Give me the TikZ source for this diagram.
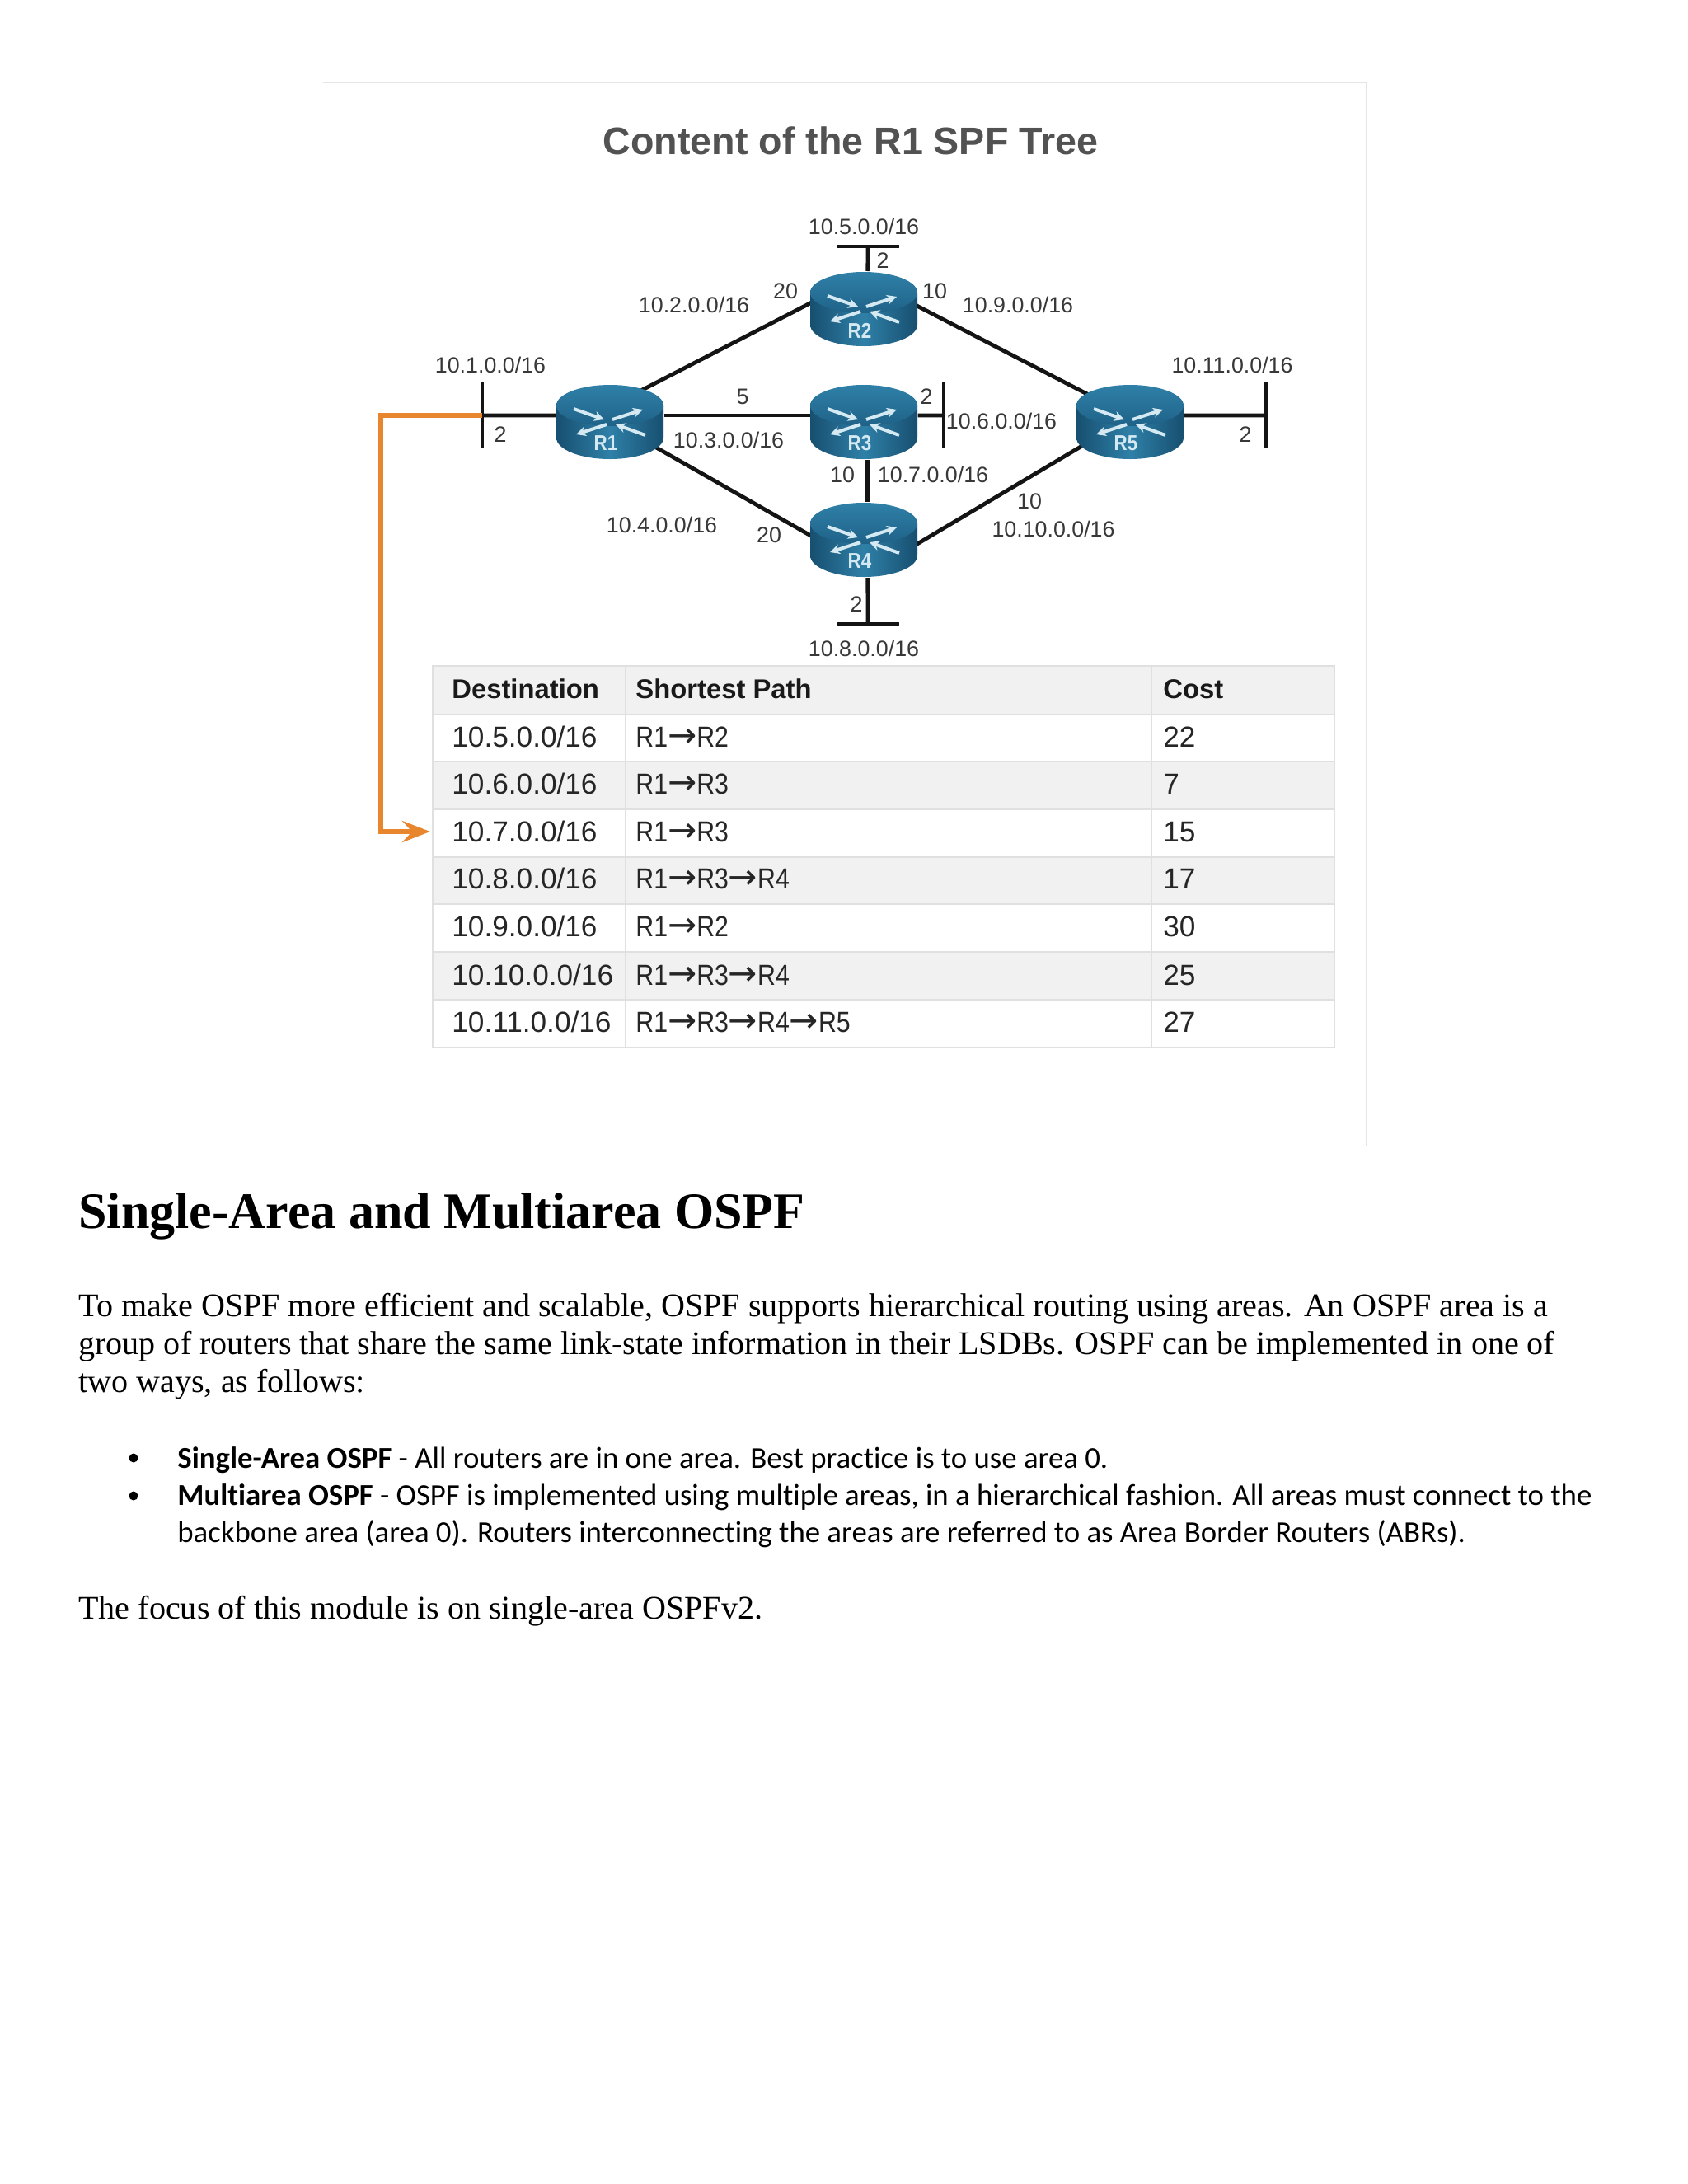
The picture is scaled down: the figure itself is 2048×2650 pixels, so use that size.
\documentclass[tikz,border=0pt]{standalone}
\usepackage{fontspec}
\usetikzlibrary{arrows.meta,calc}
\setmainfont{Liberation Serif}
\newfontfamily\arialf{Liberation Sans}
\newfontfamily\arialnf[FakeStretch=0.86]{Liberation Sans}
\newfontfamily\dvf{DejaVu Sans}
\newfontfamily\calf[Ligatures=CommonOff]{Carlito}
\definecolor{routerlight}{HTML}{2F80A8}
\definecolor{routermid}{HTML}{1F6288}
\definecolor{routerdark}{HTML}{174F70}
\definecolor{iconline}{HTML}{D4E9F2}
\definecolor{tblgrey}{HTML}{F1F1F2}
\definecolor{tblline}{HTML}{E0E0E1}
\definecolor{orangeln}{HTML}{E8862E}
\newcommand{\arr}{{\dvf\fontsize{21}{21}\selectfont →}}
\tikzset{
  x=0.5pt,y=-0.5pt,
  routerbox/.style={minimum width=131*0.5pt,minimum height=92*0.5pt,inner sep=0pt,outer sep=0pt},
  netln/.style={draw=black!92,line width=2.4pt},
  diag/.style={shorten <=-10pt,shorten >=-10pt},
  lbl/.style={inner sep=0pt,font=\arialf\fontsize{13.4}{16}\selectfont,text=black!78,anchor=center,text height=9.6pt,text depth=0pt},
  cell/.style={inner sep=0pt,font=\arialf\fontsize{17.6}{21}\selectfont,text=black!85,anchor=west,text height=12.6pt,text depth=0pt},
  pathcell/.style={cell,font=\arialnf\fontsize{17.6}{21}\selectfont},
  headcell/.style={inner sep=0pt,font=\arialf\bfseries\fontsize{16.4}{20}\selectfont,text=black!90,anchor=west,text height=11.8pt,text depth=0pt},
  serifline/.style={inner sep=0pt,anchor=base west,font=\fontsize{20.05}{24}\selectfont,text=black},
  calline/.style={inner sep=0pt,anchor=base west,font=\calf\fontsize{18.4}{22}\selectfont,text=black},
  iconarrow/.style={draw=iconline,line width=2pt,-{Stealth[length=6pt,width=6pt]}},
}
\newcommand{\routerart}[2]{%
  \begin{scope}[shift={(#1.center)}]
    \shade[left color=routerdark,right color=routerdark,middle color=routerlight]
      (-65,-20) -- (-65,19) .. controls (-65,33.4) and (-36,45) .. (0,45)
      .. controls (36,45) and (65,33.4) .. (65,19) -- (65,-20) -- cycle;
    \shade[top color=routerlight,bottom color=routermid] (0,-20) ellipse [x radius=65,y radius=25];
    \draw[iconarrow] (-44,-16) -- (-7,-3);
    \draw[iconarrow] (3,-3) -- (40,-15);
    \draw[iconarrow] (-4,3) -- (-41,15);
    \draw[iconarrow] (43,16) -- (7,3);
    \node[inner sep=0pt,text=iconline,font=\arialnf\bfseries\fontsize{13}{15}\selectfont] at (-5,26) {#2};
  \end{scope}}
\begin{document}
\begin{tikzpicture}
\useasboundingbox (0,0) rectangle (2048,2650);
\fill[white] (0,0) rectangle (2048,2650);
% panel
\draw[draw=black!10,line width=1pt] (392,100) -- (1658,100) -- (1658,1391);
\node[inner sep=0pt,font=\arialf\bfseries\fontsize{23.3}{28}\selectfont,text=black!68] (title) at (1032,171) {Content of the R1 SPF Tree};
% router anchors
\node[routerbox] (R1) at (740,512) {};
\node[routerbox] (R2) at (1048,375) {};
\node[routerbox] (R3) at (1048,512) {};
\node[routerbox] (R4) at (1048,655) {};
\node[routerbox] (R5) at (1371,512) {};
\coordinate (tR1) at (585,504);
\coordinate (tR2) at (1053,299);
\coordinate (tR3) at (1145,504);
\coordinate (tR4) at (1053,757);
\coordinate (tR5) at (1536,504);
\coordinate (turn) at (462,1009);
% connectors
\draw[netln,diag] (R1.41) -- (R2.174);
\draw[netln,diag] (R1.-29) -- (R4.175);
\draw[netln,diag] (R2.3) -- (R5.148);
\draw[netln,diag] (R4.-4) -- (R5.-153);
\draw[netln] (R1.7) -- (R3.173);
\draw[netln] (R3.-84) -- (R4.84);
\draw[netln] (tR1) -- (R1.173);
\draw[netln] (R3.7) -- (tR3);
\draw[netln] (R5.7) -- (tR5);
\draw[netln] (R2.84) -- (tR2);
\draw[netln] (R4.-84) -- (tR4);
\draw[netln] ($(tR1)+(0,-40)$) -- ($(tR1)+(0,40)$);
\draw[netln] ($(tR3)+(0,-40)$) -- ($(tR3)+(0,40)$);
\draw[netln] ($(tR5)+(0,-40)$) -- ($(tR5)+(0,40)$);
\draw[netln] ($(tR2)+(-38,0)$) -- ($(tR2)+(38,0)$);
\draw[netln] ($(tR4)+(-38,0)$) -- ($(tR4)+(38,0)$);
% routers
\routerart{R1}{R1}
\routerart{R2}{R2}
\routerart{R3}{R3}
\routerart{R4}{R4}
\routerart{R5}{R5}
% network labels
\foreach \nm/\px/\py/\tx in {
 n5/1048/275/10.5.0.0\slash 16, c5/1071/316/2, c2a/953/353/20, c2b/1134/353/10,
 n2/842/370/10.2.0.0\slash 16, n9/1235/370/10.9.0.0\slash 16,
 n1/595/443/10.1.0.0\slash 16, n11/1495/443/10.11.0.0\slash 16,
 c3a/901/481/5, c3b/1124/481/2, c1/607/527/2, n3/884/534/10.3.0.0\slash 16,
 n6/1215/511/10.6.0.0\slash 16, c11/1511/527/2, c7/1022/576/10, n7/1132/576/10.7.0.0\slash 16,
 c10/1249/608/10, n10/1278/642/10.10.0.0\slash 16, n4/803/637/10.4.0.0\slash 16,
 c4/933/649/20, c8/1039/733/2, n8/1048/787/10.8.0.0\slash 16}
  \node[lbl] (\nm) at (\px,\py) {\tx};
% table
\foreach \ya/\yb in {808/867,924/982,1040/1097,1155/1213}
  \fill[tblgrey] (525,\ya) rectangle (1619,\yb);
\draw[draw=tblline,line width=1.2pt] (525,808) rectangle (1619,1271);
\foreach \yy in {867,924,982,1040,1097,1155,1213}
  \draw[draw=tblline,line width=1.2pt] (525,\yy) -- (1619,\yy);
\foreach \xx in {759,1397}
  \draw[draw=tblline,line width=1pt] (\xx,808) -- (\xx,1271);
\node[headcell] (hd) at (548,836) {Destination};
\node[headcell] (hp) at (771,836) {Shortest Path};
\node[headcell] (hc) at (1411,836) {Cost};
\foreach \i/\yy/\da/\pa/\co in {
 5/894/10.5.0.0\slash 16/R1\arr R2/22,
 6/951/10.6.0.0\slash 16/R1\arr R3/7,
 7/1009/10.7.0.0\slash 16/R1\arr R3/15,
 8/1066/10.8.0.0\slash 16/R1\arr R3\arr R4/17,
 9/1124/10.9.0.0\slash 16/R1\arr R2/30,
 10/1183/10.10.0.0\slash 16/R1\arr R3\arr R4/25,
 11/1240/10.11.0.0\slash 16/R1\arr R3\arr R4\arr R5/27}{
  \node[cell] (d\i) at (548,\yy) {\da};
  \node[pathcell] (p\i) at (771,\yy) {\pa};
  \node[cell] (k\i) at (1411,\yy) {\co};
}
% orange connector
\draw[draw=orangeln,line width=3pt,line join=miter,-{Stealth[length=17pt,width=13pt,inset=6pt]}]
  (tR1) -- (tR1 -| turn) -- (turn) -- ([xshift=-13pt]d7.west);
% lower text
\node[inner sep=0pt,anchor=base west,font=\bfseries\fontsize{31}{36}\selectfont] (head) at (95,1490) {Single-Area and Multiarea OSPF};
\node[serifline] (p1) at (95,1597) {To make OSPF more efficient and scalable, OSPF supports hierarchical routing using areas. An OSPF area is a};
\node[serifline] (p2) at (95,1643) {group of routers that share the same link-state information in their LSDBs. OSPF can be implemented in one of};
\node[serifline] (p3) at (95,1689) {two ways, as follows:};
\node[circle,fill=black,inner sep=0pt,minimum size=5.5pt] (b1) at (162,1769) {};
\node[circle,fill=black,inner sep=0pt,minimum size=5.5pt] (b2) at (162,1815) {};
\node[calline] (l1) at (215,1781) {\textbf{Single-Area OSPF} - All routers are in one area. Best practice is to use area 0.};
\node[calline] (l2) at (215,1826) {\textbf{Multiarea OSPF} - OSPF is implemented using multiple areas, in a hierarchical fashion. All areas must connect to the};
\node[calline] (l3) at (215,1871) {backbone area (area 0). Routers interconnecting the areas are referred to as Area Border Routers (ABRs).};
\node[serifline] (p4) at (95,1964) {The focus of this module is on single-area OSPFv2.};
\end{tikzpicture}
\end{document}
